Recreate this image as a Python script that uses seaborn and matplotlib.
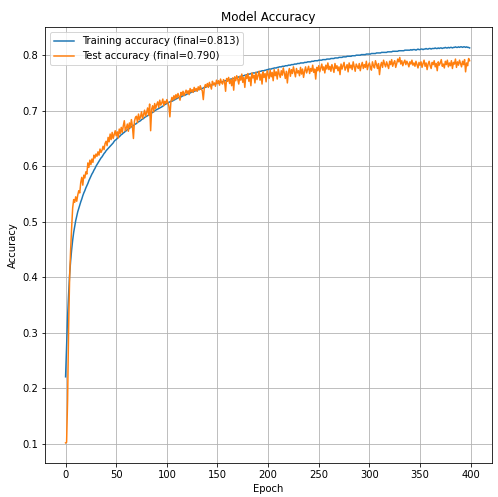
import numpy as np
import matplotlib
matplotlib.use("Agg")
import matplotlib.pyplot as plt
import seaborn as sns

# accuracy per epoch
train_acc = [
    .221, .275, .330, .370, .405, .430, .450, .467, .481, .492,
    .502, .510, .518, .524, .530, .536, .541, .547, .552, .556,
    .561, .565, .569, .574, .578, .582, .586, .589, .593, .596,
    .600, .603, .606, .609, .612, .615, .617, .620, .623, .625,
    .628, .630, .632, .634, .636, .638, .640, .642, .645, .647,
    .648, .650, .652, .653, .655, .657, .658, .660, .661, .663,
    .664, .666, .667, .668, .670, .671, .672, .673, .675, .676,
    .677, .679, .680, .681, .682, .684, .685, .686, .688, .689,
    .690, .691, .692, .694, .695, .696, .697, .698, .700, .701,
    .702, .703, .704, .705, .706, .707, .708, .710, .711, .712,
    .713, .714, .715, .716, .717, .717, .718, .719, .720, .721,
    .722, .723, .724, .724, .725, .726, .727, .728, .728, .729,
    .730, .731, .731, .732, .733, .734, .734, .735, .736, .736,
    .737, .738, .738, .739, .740, .740, .741, .742, .742, .743,
    .744, .744, .745, .745, .746, .747, .747, .748, .748, .749,
    .750, .750, .751, .751, .752, .752, .753, .754, .754, .755,
    .755, .756, .756, .757, .757, .758, .758, .759, .759, .760,
    .760, .761, .761, .762, .762, .763, .763, .764, .764, .765,
    .765, .766, .766, .767, .767, .768, .768, .768, .769, .769,
    .770, .770, .771, .771, .772, .772, .772, .773, .773, .774,
    .774, .775, .775, .775, .776, .776, .777, .777, .777, .778,
    .778, .779, .779, .779, .780, .780, .780, .781, .781, .781,
    .782, .782, .782, .783, .783, .783, .784, .784, .784, .785,
    .785, .785, .786, .786, .786, .786, .787, .787, .787, .788,
    .788, .788, .788, .789, .789, .789, .790, .790, .790, .790,
    .791, .791, .791, .791, .792, .792, .792, .792, .793, .793,
    .793, .793, .794, .794, .794, .794, .795, .795, .795, .795,
    .796, .796, .796, .796, .797, .797, .797, .797, .798, .798,
    .798, .798, .798, .799, .799, .799, .799, .800, .800, .800,
    .800, .800, .801, .801, .801, .801, .801, .802, .802, .802,
    .802, .802, .803, .803, .803, .803, .803, .804, .804, .804,
    .804, .804, .805, .805, .805, .805, .805, .805, .806, .806,
    .806, .806, .806, .807, .807, .807, .807, .807, .807, .808,
    .808, .808, .808, .808, .808, .809, .809, .809, .809, .809,
    .809, .810, .809, .810, .810, .810, .809, .810, .811, .810,
    .810, .811, .811, .810, .811, .811, .812, .811, .811, .812,
    .812, .811, .812, .812, .812, .813, .812, .812, .813, .812,
    .813, .813, .812, .813, .813, .814, .813, .813, .814, .813,
    .814, .814, .813, .814, .814, .815, .814, .814, .815, .814,
    .815, .815, .814, .815, .815, .814, .815, .814, .814, .813,
]

test_acc = [
    .102, .103, .180, .310, .400, .450, .490, .525, .540, .535,
    .545, .537, .548, .556, .552, .571, .580, .566, .584, .579,
    .590, .586, .606, .598, .611, .603, .613, .607, .620, .615,
    .622, .618, .626, .620, .631, .625, .629, .636, .630, .641,
    .645, .637, .652, .644, .658, .648, .661, .650, .657, .664,
    .655, .662, .651, .667, .659, .670, .661, .673, .682, .664,
    .669, .676, .663, .678, .670, .684, .672, .650, .681, .688,
    .690, .679, .694, .684, .689, .698, .686, .693, .701, .690,
    .697, .705, .692, .712, .664, .703, .709, .698, .713, .704,
    .711, .716, .706, .719, .710, .714, .721, .709, .717, .713,
    .720, .715, .708, .689, .716, .724, .719, .727, .721, .729,
    .723, .731, .726, .719, .733, .728, .735, .727, .732, .737,
    .731, .736, .729, .740, .734, .738, .733, .742, .736, .740,
    .735, .743, .738, .745, .739, .736, .720, .741, .747, .743,
    .749, .742, .751, .746, .739, .753, .747, .750, .744, .755,
    .749, .754, .746, .757, .751, .748, .756, .752, .735, .758,
    .753, .760, .749, .756, .745, .759, .737, .761, .754, .763,
    .757, .748, .762, .755, .766, .751, .760, .742, .764, .758,
    .767, .753, .761, .745, .768, .759, .764, .750, .769, .756,
    .763, .771, .755, .766, .748, .770, .760, .767, .752, .772,
    .765, .758, .773, .761, .769, .754, .774, .763, .770, .757,
    .775, .766, .760, .772, .764, .777, .768, .758, .771, .750,
    .769, .776, .762, .774, .767, .779, .770, .761, .776, .768,
    .772, .763, .778, .766, .775, .760, .771, .779, .768, .774,
    .780, .767, .776, .771, .782, .769, .775, .757, .778, .772,
    .781, .770, .777, .784, .773, .779, .768, .782, .775, .786,
    .774, .780, .771, .783, .777, .769, .785, .776, .781, .772,
    .779, .765, .784, .775, .781, .787, .773, .778, .783, .770,
    .786, .777, .782, .774, .788, .779, .771, .784, .780, .776,
    .785, .772, .781, .787, .776, .783, .778, .789, .774, .782,
    .786, .779, .773, .788, .781, .777, .790, .783, .776, .785,
    .765, .781, .787, .778, .791, .784, .779, .788, .782, .776,
    .789, .783, .792, .780, .786, .790, .778, .785, .793, .788,
    .796, .784, .790, .781, .787, .791, .783, .789, .785, .779,
    .788, .784, .791, .782, .786, .780, .789, .783, .777, .787,
    .782, .788, .778, .785, .791, .780, .786, .774, .784, .789,
    .781, .776, .787, .783, .790, .779, .785, .772, .788, .782,
    .786, .792, .780, .784, .777, .789, .783, .791, .779, .786,
    .781, .790, .776, .787, .784, .793, .778, .788, .782, .791,
    .785, .779, .789, .783, .792, .770, .786, .781, .794, .790,
]

epochs = np.arange(len(train_acc))

fig = plt.figure(figsize=(498 / 72, 497 / 72), dpi=72)
ax = fig.add_axes([0.0904, 0.069, 0.8982, 0.8766])

sns.lineplot(x=epochs, y=train_acc, ax=ax, color="tab:blue", linewidth=1.5,
             label=f"Training accuracy (final={train_acc[-1]:.3f})")
sns.lineplot(x=epochs, y=test_acc, ax=ax, color="tab:orange", linewidth=1.5,
             label=f"Test accuracy (final={test_acc[-1]:.3f})")

ax.set_xlim(-20.3, 421.4)
ax.set_xticks([0, 50, 100, 150, 200, 250, 300, 350, 400])
ax.grid(True)
ax.set_title("Model Accuracy", fontsize=12)
ax.set_xlabel("Epoch", fontsize=10)
ax.set_ylabel("Accuracy", fontsize=10)
ax.tick_params(labelsize=10)
ax.legend(loc="upper left", fontsize=10)

fig.savefig("out.png", dpi=72)
